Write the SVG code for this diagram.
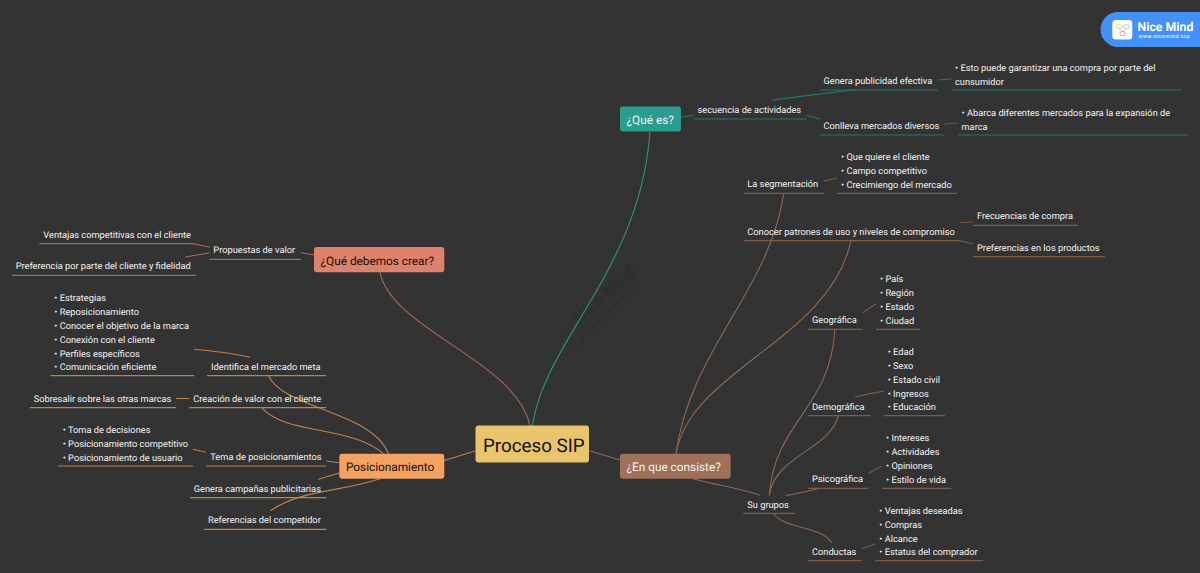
<svg xmlns="http://www.w3.org/2000/svg" width="1200" height="573" viewBox="0 0 1200 573">
<style>
text{font-family:Roboto,"Liberation Sans",sans-serif;text-rendering:geometricPrecision}
.t{font-size:9.25px;fill:#f4f4f4;transform:translateY(-.6px)}
.m{font-size:11.8px}
.u,.c{fill:none;stroke-linecap:butt}
.u{stroke-width:1.2}
.c{stroke-width:1.1}
.teal{stroke:#22796d}
.tealc{stroke:#2a9587}
.brown{stroke:#7e5b49}
.brownc{stroke:#8f6a55}
.coral{stroke:#a86a5b}
.org{stroke:#bd834c}
.wm{fill:#2e2e2e;font-weight:700}
</style>
<rect width="1200" height="573" fill="#333333"/>
<g id="watermark">
<rect x="-9" y="-9" width="18" height="18" rx="3" transform="translate(572,338) rotate(-45)" fill="none" stroke="#2e2e2e" stroke-width="1"/>
<text class="wm" transform="translate(580,325) rotate(-43)" font-size="17">Nice Mind</text>
<text class="wm" transform="translate(590,332) rotate(-43)" font-size="7.5">www.nicemind.top</text>
</g>
<g id="connectors">
<path class="c tealc" d="M532.5,425.3C545,340 640,270 650,131.7"/>
<path class="c coral" d="M380,272.3C392,330 515,360 530,425.3"/>
<path class="c brownc" d="M676,453.7C690,350 770,290 783.7,193.3"/>
<path class="c brownc" d="M676,453.7C690,370 830,340 851,240.7"/>
<path class="c brownc" d="M589.3,450.7L620,460"/>
<path class="c org" d="M475,451L444.3,460.6"/>
<path class="c teal" d="M681,117L693.8,115.3"/>
<path class="c teal" d="M772,100.3C800,96 830,93 854.5,90"/>
<path class="c teal" d="M806.7,115.3L820,119"/>
<path class="c teal" d="M938,80L951.3,79"/>
<path class="c teal" d="M944.4,124L957.4,123"/>
<path class="c brown" d="M823.9,181L837,178.3"/>
<path class="c brown" d="M959.7,222.5L973,222"/>
<path class="c brown" d="M959.7,240.7L973,244"/>
<path class="c coral" d="M314.7,255L301,252.7"/>
<path class="c coral" d="M193,243.7L210,247.3"/>
<path class="c coral" d="M210,252.7L185.3,257"/>
<path class="c org" d="M194,349.3C215,351 235,354 250,357.3"/>
<path class="c org" d="M176,398.5H189.3"/>
<path class="c org" d="M193,449.3L206,452.3"/>
<path class="c org" d="M326.3,461L339.3,462.7"/>
<path class="c org" d="M318.3,479.3L339.3,473"/>
<path class="c org" d="M380,478.7C340,492 300,490 270.7,510.7"/>
<path class="c org" d="M268.5,375.7C285,410 370,410 388.7,453.7"/>
<path class="c org" d="M261.7,407.7C285,435 350,425 383.3,453.7"/>
<path class="c brownc" d="M693.3,478.7C715,485 740,488 760,495.3"/>
<path class="c brownc" d="M769.3,495.3C775,420 830,410 835,329.3"/>
<path class="c brownc" d="M769.3,495.3C775,455 830,450 838.3,415.7"/>
<path class="c brownc" d="M785.7,495.3C797,494 808,491 820,488.3"/>
<path class="c brownc" d="M773.3,513.3C785,530 820,525 831.7,542.7"/>
<path class="c brown" d="M862.7,312.7L876,303.7"/>
<path class="c brown" d="M855,397.3C864,394 874,393 883.7,391.3"/>
<path class="c brown" d="M868.7,473.3L882,466"/>
<path class="c brown" d="M862,548.7L875.3,544"/>
</g>
<g id="root"><rect x="475.5" y="425.5" width="113.5" height="37" rx="3" fill="#e9c46a"/><text x="483" y="451.5" font-size="18.8" fill="#111">Proceso SIP</text></g>
<g id="que-es"><rect x="620" y="106.5" width="61" height="25" rx="3" fill="#2a9d8f"/><text x="626.5" y="124" class="m" fill="#f4f4f4">¿Qué es?</text></g>
<g id="en-que"><rect x="620" y="453.7" width="110.7" height="25" rx="3" fill="#a07058"/><text x="626.5" y="471.2" class="m" fill="#f4f4f4">¿En que consiste?</text></g>
<g id="que-crear"><rect x="314" y="247" width="130.3" height="25.3" rx="3" fill="#df826c"/><text x="320.5" y="264.7" class="m" fill="#111">¿Qué debemos crear?</text></g>
<g id="posic"><rect x="339.3" y="453.7" width="105" height="25" rx="3" fill="#f4a261"/><text x="346" y="471.2" class="m" fill="#111">Posicionamiento</text></g>

<g id="n-secuencia"><text class="t" x="697.6" y="114">secuencia de actividades</text><path class="u teal" d="M693.8,119H806.7"/></g>
<g id="n-genera"><text class="t" x="823.5" y="85">Genera publicidad efectiva</text><path class="u teal" d="M820,90H938"/></g>
<g id="n-conlleva"><text class="t" x="823.5" y="130">Conlleva mercados diversos</text><path class="u teal" d="M820,135H944.4"/></g>
<g id="n-esto"><text class="t" x="955" y="71.5">• Esto puede garantizar una compra por parte del</text><text class="t" x="955" y="85.5">cunsumidor</text><path class="u teal" d="M951.3,90H1181.7"/></g>
<g id="n-abarca"><text class="t" x="961.5" y="116.5">• Abarca diferentes mercados para la expansión de</text><text class="t" x="961.5" y="130.5">marca</text><path class="u teal" d="M957.4,135H1188"/></g>

<g id="n-segm"><text class="t" x="747.3" y="188">La segmentación</text><path class="u brown" d="M743.5,193.3H823.9"/></g>
<g id="n-segm-b"><text class="t" x="841" y="161">• Que quiere el cliente</text><text class="t" x="841" y="175">• Campo competitivo</text><text class="t" x="841" y="189">• Crecimiengo del mercado</text><path class="u brown" d="M837,193.3H957"/></g>
<g id="n-conocer"><text class="t" x="747.3" y="235.5">Conocer patrones de uso y niveles de compromiso</text><path class="u brown" d="M743.5,240.7H959.7"/></g>
<g id="n-frec"><text class="t" x="977" y="220">Frecuencias de compra</text><path class="u brown" d="M973,225.3H1078"/></g>
<g id="n-pref"><text class="t" x="977" y="251.5">Preferencias en los productos</text><path class="u brown" d="M973,256.7H1105"/></g>

<g id="n-grupos"><text class="t" x="747.3" y="508.3">Su grupos</text><path class="u brown" d="M743.3,513.3H795"/></g>
<g id="n-geo"><text class="t" x="812" y="324">Geográfica</text><path class="u brown" d="M808,329.3H862.7"/></g>
<g id="n-geo-b"><text class="t" x="880" y="282.7">• País</text><text class="t" x="880" y="296.7">• Región</text><text class="t" x="880" y="310.5">• Estado</text><text class="t" x="880" y="324.5">• Ciudad</text><path class="u brown" d="M876,329.3H920"/></g>
<g id="n-demo"><text class="t" x="812" y="410.5">Demográfica</text><path class="u brown" d="M808,415.7H870.3"/></g>
<g id="n-demo-b"><text class="t" x="887.7" y="355.5">• Edad</text><text class="t" x="887.7" y="369.5">• Sexo</text><text class="t" x="887.7" y="383.5">• Estado civil</text><text class="t" x="887.7" y="397.3">• Ingresos</text><text class="t" x="887.7" y="411">• Educación</text><path class="u brown" d="M883.7,415.7H945"/></g>
<g id="n-psico"><text class="t" x="812" y="483">Psicográfica</text><path class="u brown" d="M808,488.3H868.7"/></g>
<g id="n-psico-b"><text class="t" x="886" y="442">• Intereses</text><text class="t" x="886" y="456">• Actividades</text><text class="t" x="886" y="469.7">• Opiniones</text><text class="t" x="886" y="483.5">• Estilo de vida</text><path class="u brown" d="M882,488.3H951.3"/></g>
<g id="n-cond"><text class="t" x="812" y="555.5">Conductas</text><path class="u brown" d="M808,560.7H862"/></g>
<g id="n-cond-b"><text class="t" x="879.3" y="514.5">• Ventajas deseadas</text><text class="t" x="879.3" y="528.5">• Compras</text><text class="t" x="879.3" y="542.3">• Alcance</text><text class="t" x="879.3" y="556">• Estatus del comprador</text><path class="u brown" d="M875.3,560.7H983.3"/></g>

<g id="n-prop"><text class="t" x="213.3" y="254">Propuestas de valor</text><path class="u coral" d="M209.3,259.3H301"/></g>
<g id="n-vent"><text class="t" x="43.3" y="238.3">Ventajas competitivas con el cliente</text><path class="u coral" d="M39.3,243.7H193"/></g>
<g id="n-prefc"><text class="t" x="15.7" y="270">Preferencia por parte del cliente y fidelidad</text><path class="u coral" d="M12,275.3H196.3"/></g>
<g id="n-ident-b"><text class="t" x="54.3" y="301.7">• Estrategias</text><text class="t" x="54.3" y="315.7">• Reposicionamiento</text><text class="t" x="54.3" y="329.5">• Conocer el objetivo de la marca</text><text class="t" x="54.3" y="343.5">• Conexión con el cliente</text><text class="t" x="54.3" y="357.3">• Perfiles específicos</text><text class="t" x="54.3" y="371">• Comunicación eficiente</text><path class="u org" d="M50.3,375.7H194"/></g>
<g id="n-ident"><text class="t" x="211" y="370.7">Identifica el mercado meta</text><path class="u org" d="M207,375.7H326.3"/></g>
<g id="n-sobre"><text class="t" x="33.7" y="402.3">Sobresalir sobre las otras marcas</text><path class="u org" d="M30,407.7H176"/></g>
<g id="n-crea"><text class="t" x="193.3" y="402.3">Creación de valor con el cliente</text><path class="u org" d="M189.3,407.7H326.3"/></g>
<g id="n-tema-b"><text class="t" x="62.7" y="433.5">• Toma de decisiones</text><text class="t" x="62.7" y="447.5">• Posicionamiento competitivo</text><text class="t" x="62.7" y="461.5">• Posicionamiento de usuario</text><path class="u org" d="M58.3,466H193"/></g>
<g id="n-tema"><text class="t" x="210.3" y="461">Tema de posicionamientos</text><path class="u org" d="M206,466H326.3"/></g>
<g id="n-camp"><text class="t" x="193.7" y="492.5">Genera campañas publicitarias</text><path class="u org" d="M190,497.7H326.3"/></g>
<g id="n-ref"><text class="t" x="208" y="524">Referencias del competidor</text><path class="u org" d="M204,529.3H326.3"/></g>

<g id="logo">
<path d="M1200,12H1118a17.5,17.5 0 0 0 0,35H1200Z" fill="#4390fa"/>
<rect x="1112.3" y="20" width="20" height="19.5" rx="3.5" fill="#fff"/>
<path d="M1119,28.5L1122.5,32M1126.5,28.5L1123,32" fill="none" stroke="#f2a0a0" stroke-width=".9"/>
<rect x="1116.3" y="25" width="5.4" height="3.2" rx="1" fill="none" stroke="#e6d36a" stroke-width=".9"/>
<rect x="1123.6" y="25" width="5.6" height="3.2" rx="1" fill="none" stroke="#8fd0e8" stroke-width=".9"/>
<rect x="1120.2" y="31.7" width="4.8" height="3.8" rx="1" fill="none" stroke="#f08a8a" stroke-width=".9"/>
<text x="1137.5" y="30.5" font-size="12.3" font-weight="700" fill="#fff">Nice Mind</text>
<text x="1138.5" y="38" font-size="5.5" font-weight="700" fill="#d5e5fd" letter-spacing=".35">www.nicemind.top</text>
</g>
</svg>
